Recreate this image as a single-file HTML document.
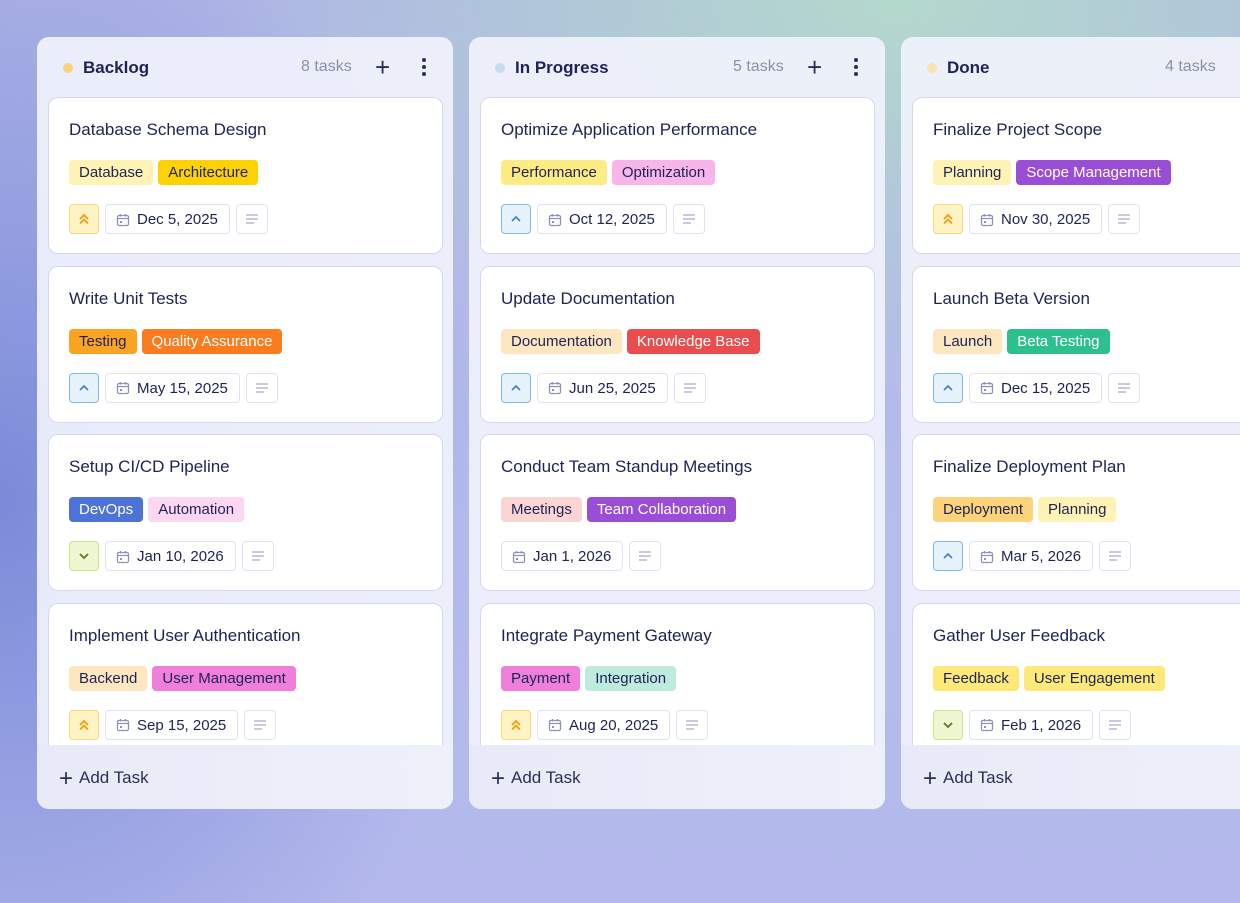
<!DOCTYPE html>
<html><head><meta charset="utf-8"><style>
*{box-sizing:border-box;margin:0;padding:0}
body{width:1240px;height:903px;overflow:hidden;font-family:"Liberation Sans",sans-serif;color:#1e2356;
background:radial-gradient(ellipse 700px 400px at 900px 0px,#b3d9cc 0%,rgba(179,217,204,0) 100%),
radial-gradient(ellipse 500px 600px at 0px 500px,#7a8ad8 0%,rgba(122,138,216,0) 100%),
linear-gradient(180deg,#aeb4e6 0%,#b6bdee 60%,#b4b8ec 100%);position:relative}
.col{position:absolute;top:37px;width:416px;height:772px;background:rgba(240,242,252,0.93);border-radius:12px;overflow:hidden}
.hdr{position:absolute;top:0;left:0;right:0;height:60px}
.dot{position:absolute;left:26px;top:26px;width:10px;height:10px;border-radius:50%}
.ttl{position:absolute;left:46px;top:21px;font-size:17px;font-weight:bold;color:#1e2356}
.cnt{position:absolute;top:21px;font-size:16px;color:#8a8fae}
.plus{position:absolute;top:15px;font-size:26px;color:#2a2f5a}
.dots{position:absolute;top:21px;width:4px}
.dots i{display:block;width:4px;height:4px;border-radius:50%;background:#2a2f5a;margin-bottom:3px}
.card{position:absolute;left:11px;width:395px;height:157px;background:#fff;border:1px solid #d3d7f0;border-radius:10px}
.ct{position:absolute;left:20px;top:22px;font-size:17px;color:#1e2356}
.tags{position:absolute;left:20px;top:62px;display:flex;gap:5px}
.tag{height:25px;line-height:26px;padding:0 10px;border-radius:4px;font-size:15px;color:#1e2356}
.row{position:absolute;left:20px;top:106px;display:flex;gap:6px}
.pr{width:30px;height:30px;border-radius:4px;border:1px solid;display:flex;align-items:center;justify-content:center}
.dt{height:30px;border:1px solid #dfe2f3;border-radius:4px;padding:1px 11px 0 10px;display:flex;align-items:center;font-size:15px;color:#1e2356;gap:7px}
.ds{width:32px;height:30px;border:1px solid #dfe2f3;border-radius:4px;display:flex;align-items:center;justify-content:center}
.foot{position:absolute;left:0;right:0;bottom:0;height:64px;background:linear-gradient(90deg,#e8eaf8,#eef0fa)}
.add{position:absolute;left:22px;top:20px;font-size:17px;color:#2a2f5a}
</style></head><body>
<svg width="0" height="0" style="position:absolute"><defs>
<symbol id="cal" viewBox="0 0 14 14"><rect x="1.5" y="2.5" width="11" height="10" rx="1.5" fill="none" stroke="#8d92b8" stroke-width="1.3"/><line x1="1.5" y1="5.5" x2="12.5" y2="5.5" stroke="#8d92b8" stroke-width="1.2"/><line x1="4.5" y1="1" x2="4.5" y2="3.5" stroke="#8d92b8" stroke-width="1.3"/><line x1="9.5" y1="1" x2="9.5" y2="3.5" stroke="#8d92b8" stroke-width="1.3"/><rect x="4" y="8" width="2" height="2" fill="#8d92b8"/></symbol>
<symbol id="desc" viewBox="0 0 14 12"><line x1="1" y1="2" x2="13" y2="2" stroke="#a3a8cc" stroke-width="1.2"/><line x1="1" y1="6" x2="13" y2="6" stroke="#a3a8cc" stroke-width="1.2"/><line x1="1" y1="10" x2="9" y2="10" stroke="#a3a8cc" stroke-width="1.2"/></symbol>
<symbol id="hi" viewBox="0 0 14 14"><polyline points="3,7 7,3 11,7" fill="none" stroke="#f59e0b" stroke-width="1.8"/><polyline points="3,11.5 7,7.5 11,11.5" fill="none" stroke="#f59e0b" stroke-width="1.8"/></symbol>
<symbol id="md" viewBox="0 0 14 14"><polyline points="3,9 7,5 11,9" fill="none" stroke="#3b82c6" stroke-width="1.6"/></symbol>
<symbol id="lo" viewBox="0 0 14 14"><polyline points="3,5 7,9 11,5" fill="none" stroke="#6b6d2a" stroke-width="1.8"/></symbol>
</defs></svg>

<div id="board"></div>
<script>
const P={hi:['#fef3c4','#fcd679','hi'],md:['#e6f3fd','#7fbde8','md'],lo:['#eef8d0','#c9e58a','lo']};
const cols=[
{x:37,name:'Backlog',dot:'#fcd27a',cnt:'8 tasks',cards:[
['Database Schema Design',[['Database','#fef3b5'],['Architecture','#fdd200']],'hi','Dec 5, 2025'],
['Write Unit Tests',[['Testing','#fba423'],['Quality Assurance','#fb7c1f','#fff']],'md','May 15, 2025'],
['Setup CI/CD Pipeline',[['DevOps','#4e73d6','#fff'],['Automation','#fbd7f2']],'lo','Jan 10, 2026'],
['Implement User Authentication',[['Backend','#fde6c0'],['User Management','#ef7fdb']],'hi','Sep 15, 2025']]},
{x:469,name:'In Progress',dot:'#c5dcf5',cnt:'5 tasks',cards:[
['Optimize Application Performance',[['Performance','#fdec84'],['Optimization','#f7b5e9']],'md','Oct 12, 2025'],
['Update Documentation',[['Documentation','#fde6c0'],['Knowledge Base','#e94d4d','#fff']],'md','Jun 25, 2025'],
['Conduct Team Standup Meetings',[['Meetings','#fbd4d4'],['Team Collaboration','#9a4ed6','#fff']],null,'Jan 1, 2026'],
['Integrate Payment Gateway',[['Payment','#ef7fdb'],['Integration','#bfeade']],'hi','Aug 20, 2025']]},
{x:901,name:'Done',dot:'#fde3a8',cnt:'4 tasks',cards:[
['Finalize Project Scope',[['Planning','#fef3b5'],['Scope Management','#9a4ed6','#fff']],'hi','Nov 30, 2025'],
['Launch Beta Version',[['Launch','#fde6c0'],['Beta Testing','#2ebf8f','#fff']],'md','Dec 15, 2025'],
['Finalize Deployment Plan',[['Deployment','#fcd27a'],['Planning','#fef3b5']],'md','Mar 5, 2026'],
['Gather User Feedback',[['Feedback','#fde978'],['User Engagement','#fde978']],'lo','Feb 1, 2026']]}];
let h='';
for(const c of cols){
h+=`<div class="col" style="left:${c.x}px"><div class="hdr"><div class="dot" style="background:${c.dot}"></div><div class="ttl">${c.name}</div>
<div class="cnt" style="left:264px">${c.cnt}</div>
${c.name=='Done'?'':`<div class="plus" style="left:338px">+</div><div class="dots" style="left:385px"><i></i><i></i><i></i></div>`}</div>`;
c.cards.forEach((k,i)=>{
const y=60+i*168.5;
let tags=k[1].map(t=>`<div class="tag" style="background:${t[1]};${t[2]?'color:'+t[2]:''}">${t[0]}</div>`).join('');
let pr=k[2]?`<div class="pr" style="background:${P[k[2]][0]};border-color:${P[k[2]][1]}"><svg width="14" height="14"><use href="#${P[k[2]][2]}"/></svg></div>`:'';
h+=`<div class="card" style="top:${y}px"><div class="ct">${k[0]}</div><div class="tags">${tags}</div>
<div class="row">${pr}<div class="dt"><svg width="14" height="14"><use href="#cal"/></svg>${k[3]}</div><div class="ds"><svg width="14" height="12"><use href="#desc"/></svg></div></div></div>`;
});
h+=`<div class="foot"><div class="add"><span style="font-size:24px;vertical-align:-3px;margin-right:6px">+</span>Add Task</div></div></div>`;
}
document.getElementById('board').innerHTML=h;
</script>
</body></html>
